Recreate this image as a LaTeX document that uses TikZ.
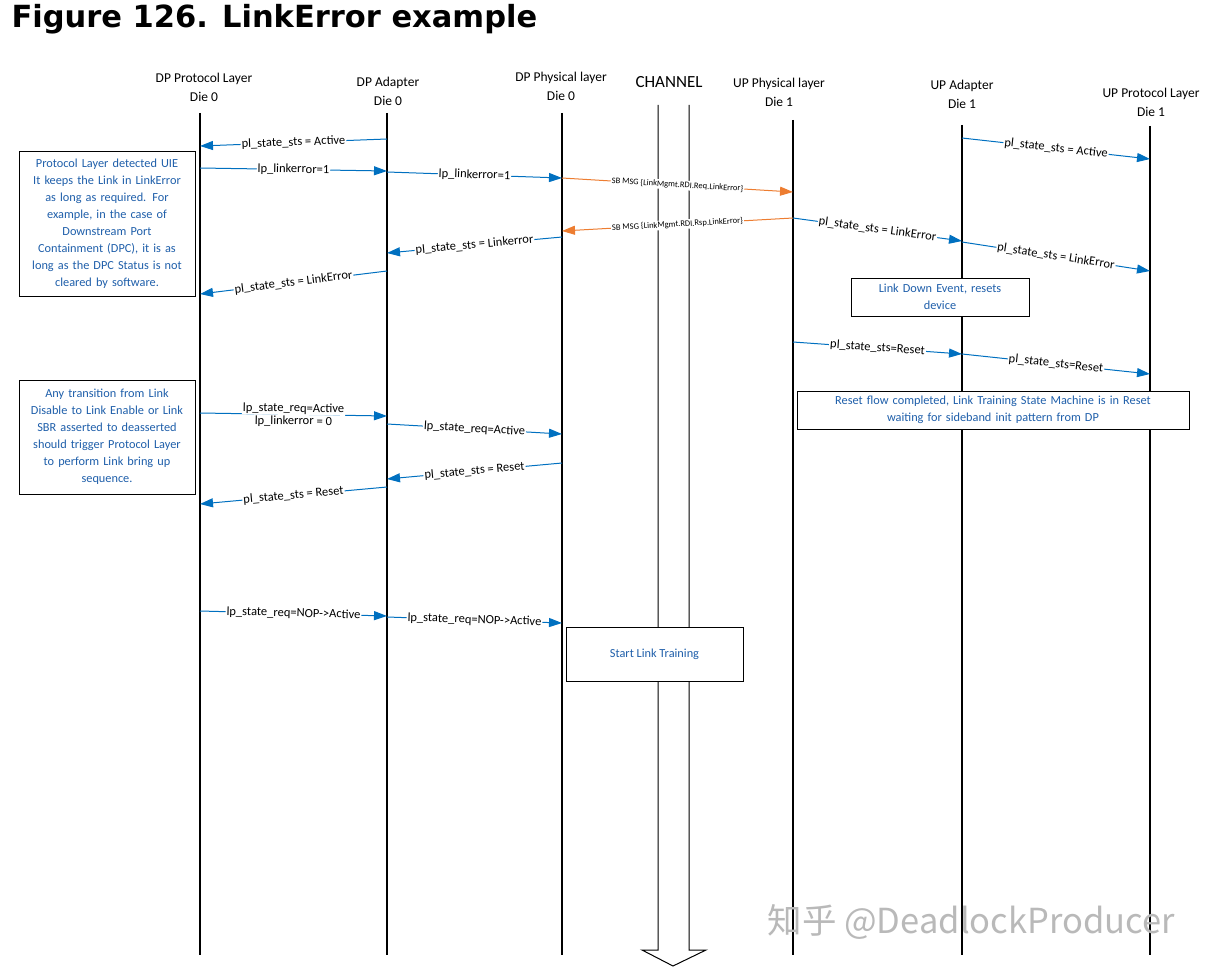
\documentclass[tikz,border=0pt]{standalone}
\usepackage{fontspec}
\setmainfont{Carlito}
\newfontfamily\titlefont{DejaVu Sans}
\newfontfamily\cjk{Noto Sans CJK SC}
\usetikzlibrary{arrows.meta}
\definecolor{ablue}{RGB}{0,112,192}
\definecolor{aorange}{RGB}{237,125,49}
\definecolor{tblue}{RGB}{31,95,170}
\begin{document}
\begin{tikzpicture}[x=1pt,y=-1pt,
 life/.style={line width=1.5pt},
 msg/.style={ablue,line width=1pt,-{Triangle[length=13pt,width=9pt]}},
 sbmsg/.style={aorange,line width=1pt,-{Triangle[length=13pt,width=9pt]}},
 lbl/.style={fill=white,inner sep=1pt,text=black,font=\fontsize{12.5}{14}\selectfont,sloped},
 slbl/.style={fill=white,inner sep=1pt,text=black,font=\fontsize{8.5}{10}\selectfont,sloped},
 hdr/.style={align=center,font=\fontsize{13.5}{19}\selectfont},
 note/.style={draw,line width=0.8pt,fill=white,align=center,text=tblue,font=\fontsize{12.3}{17}\selectfont,inner sep=2pt}]
\useasboundingbox (0,0) rectangle (1224,971);
\node[anchor=west,font=\titlefont\bfseries\fontsize{30.5}{33}\selectfont] (title) at (8,19) {Figure 126. LinkError example};
% headers
\node[hdr] (h1) at (204,87) {DP Protocol Layer\\Die 0};
\node[hdr] (h2) at (388,91) {DP Adapter\\Die 0};
\node[hdr] (h3) at (561,86) {DP Physical layer\\Die 0};
\node[hdr,font=\fontsize{17}{19}\selectfont] (h4) at (669,82) {CHANNEL};
\node[hdr] (h5) at (779,92) {UP Physical layer\\Die 1};
\node[hdr] (h6) at (962,94) {UP Adapter\\Die 1};
\node[hdr] (h7) at (1151,102) {UP Protocol Layer\\Die 1};
% channel arrow
\draw[line width=1pt,fill=white] (658,105) -- (658,950) -- (642,950) -- (673,966) -- (706,950) -- (689,950) -- (689,105);
% lifelines
\foreach \n/\x/\t in {a/200/113,b/387/113,c/562/113,d/793/120,e/962/125,f/1150/126}{
 \coordinate (\n top) at (\x,\t); \coordinate (\n bot) at (\x,955);
 \draw[life] (\n top) -- (\n bot);}
% messages
\foreach \n/\x/\y in {
 a1/200/146, b1/387/139,
 a2/200/168, b2/387/171,
 b3/387/172, c3/562/178,
 c4/562/178, d4/793/192,
 d5/793/218, c5/562/231,
 c6/562/237, b6/387/253,
 b7/387/271, a7/200/294,
 e8/962/138, f8/1150/159,
 d9/793/218, e9/962/241,
 e10/962/242, f10/1150/271,
 d11/793/342, e11/962/354,
 e12/962/354, f12/1150/374,
 a13/200/413, b13/387/416,
 b14/387/424, c14/562/434,
 c15/562/463, b15/387/479,
 b16/387/487, a16/200/504,
 a17/200/611, b17/387/616,
 b18/387/617, c18/562/623}{\coordinate (\n) at (\x,\y);}
\draw[msg] (b1) -- node[lbl]{pl\_state\_sts = Active} (a1);
\draw[msg] (a2) -- node[lbl]{lp\_linkerror=1} (b2);
\draw[msg] (b3) -- node[lbl]{lp\_linkerror=1} (c3);
\draw[sbmsg] (c4) -- node[slbl]{SB MSG \{LinkMgmt.RDI.Req.LinkError\}} (d4);
\draw[sbmsg] (d5) -- node[slbl]{SB MSG \{LinkMgmt.RDI.Rsp.LinkError\}} (c5);
\draw[msg] (c6) -- node[lbl]{pl\_state\_sts = Linkerror} (b6);
\draw[msg] (b7) -- node[lbl]{pl\_state\_sts = LinkError} (a7);
\draw[msg] (e8) -- node[lbl]{pl\_state\_sts = Active} (f8);
\draw[msg] (d9) -- node[lbl]{pl\_state\_sts = LinkError} (e9);
\draw[msg] (e10) -- node[lbl]{pl\_state\_sts = LinkError} (f10);
\draw[msg] (d11) -- node[lbl]{pl\_state\_sts=Reset} (e11);
\draw[msg] (e12) -- node[lbl]{pl\_state\_sts=Reset} (f12);
\draw[msg] (a13) -- node[lbl,above=-1pt]{lp\_state\_req=Active} node[lbl,below=0pt]{lp\_linkerror = 0} (b13);
\draw[msg] (b14) -- node[lbl]{lp\_state\_req=Active} (c14);
\draw[msg] (c15) -- node[lbl]{pl\_state\_sts = Reset} (b15);
\draw[msg] (b16) -- node[lbl]{pl\_state\_sts = Reset} (a16);
\draw[msg] (a17) -- node[lbl]{lp\_state\_req=NOP->Active} (b17);
\draw[msg] (b18) -- node[lbl]{lp\_state\_req=NOP->Active} (c18);
% notes
\node[note,minimum width=176pt,minimum height=145pt,text width=172pt] (n1) at (107,223.5) {Protocol Layer detected UIE\\It keeps the Link in LinkError\\as long as required. For\\example, in the case of\\Downstream Port\\Containment (DPC), it is as\\long as the DPC Status is not\\cleared by software.};
\node[note,minimum width=176pt,minimum height=114pt,text width=172pt] (n2) at (107,437) {Any transition from Link\\Disable to Link Enable or Link\\SBR asserted to deasserted\\should trigger Protocol Layer\\to perform Link bring up\\sequence.};
\node[note,minimum width=178pt,minimum height=38pt,text width=174pt] (n3) at (940,297) {Link Down Event, resets\\device};
\node[note,minimum width=392pt,minimum height=38pt,text width=388pt] (n4) at (993,410) {Reset flow completed, Link Training State Machine is in Reset\\waiting for sideband init pattern from DP};
\node[note,minimum width=177pt,minimum height=54pt] (n5) at (654.5,654) {Start Link Training};
% watermark
\node[anchor=west,text=gray!55,font=\cjk\fontsize{34.5}{37}\selectfont] (wm) at (764,922) {知乎 @DeadlockProducer};
\end{tikzpicture}
\end{document}
